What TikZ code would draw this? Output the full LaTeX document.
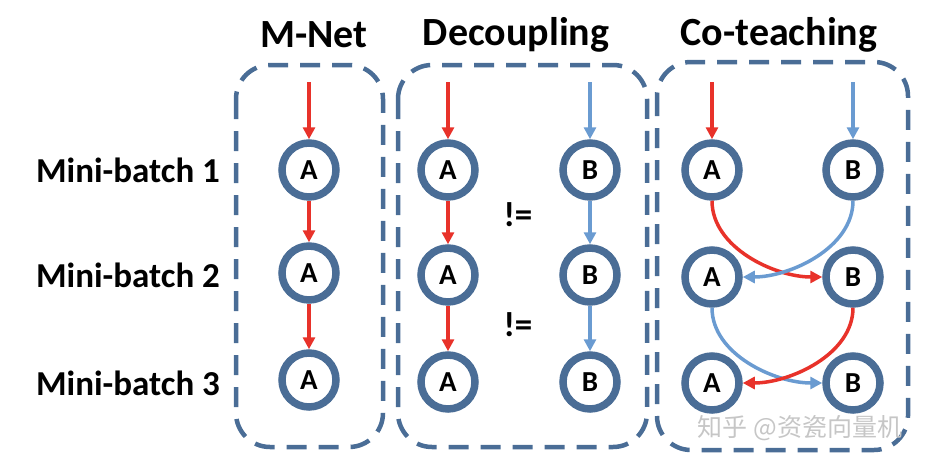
\documentclass[tikz,border=0pt]{standalone}
\usepackage{fontspec}
\setmainfont{Carlito}
\newfontfamily\cjk{Noto Sans CJK SC}
\usetikzlibrary{arrows.meta}
\definecolor{ring}{HTML}{4A6D96}
\definecolor{rd}{HTML}{E8322A}
\definecolor{bl}{HTML}{6A9BD1}
\tikzset{
  nd/.style={circle,draw=ring,line width=7.5pt,fill=white,minimum size=54pt,inner sep=0pt,font=\bfseries\fontsize{29}{29}\selectfont},
  box/.style={draw=ring,line width=4.5pt,dash pattern=on 20pt off 12pt,rounded corners=34pt},
  ra/.style={draw=rd,line width=3.5pt,-{Triangle[length=12pt,width=12pt]}},
  ba/.style={draw=bl,line width=3.5pt,-{Triangle[length=12pt,width=12pt]}},
  ttl/.style={font=\bfseries\fontsize{40}{40}\selectfont},
  lbl/.style={font=\bfseries\fontsize{35}{35}\selectfont},
}
\begin{document}
\begin{tikzpicture}[x=1pt,y=-1pt]
\useasboundingbox (0,0) rectangle (938,464);
\draw[box] (236,65) rectangle (383,447);
\draw[box] (398,65) rectangle (647,447);
\draw[box] (657,62) rectangle (908,450);
\node[ttl] (t1) at (314,35) {M-Net};
\node[ttl] (t2) at (516,35) {Decoupling};
\node[ttl] (t3) at (779,35) {Co-teaching};
\node[lbl] (l1) at (128,170) {Mini-batch 1};
\node[lbl] (l2) at (128,275) {Mini-batch 2};
\node[lbl] (l3) at (128,383) {Mini-batch 3};
\node[lbl] (ne1) at (518,215) {!=};
\node[lbl] (ne2) at (518,325) {!=};
% M-Net
\node[nd] (m1) at (309,170) {A};
\node[nd] (m2) at (309,273) {A};
\node[nd] (m3) at (309,380) {A};
\coordinate (m0) at (309,82);
\draw[ra] (m0) -- (m1);
\draw[ra] (m1) -- (m2);
\draw[ra] (m2) -- (m3);
% Decoupling
\node[nd] (da1) at (448,170) {A};
\node[nd] (da2) at (448,275) {A};
\node[nd] (da3) at (448,382) {A};
\node[nd] (db1) at (590,170) {B};
\node[nd] (db2) at (590,275) {B};
\node[nd] (db3) at (590,382) {B};
\coordinate (da0) at (448,82);
\coordinate (db0) at (590,82);
\draw[ra] (da0) -- (da1);
\draw[ra] (da1) -- (da2);
\draw[ra] (da2) -- (da3);
\draw[ba] (db0) -- (db1);
\draw[ba] (db1) -- (db2);
\draw[ba] (db2) -- (db3);
% Co-teaching
\node[nd] (ca1) at (712,170) {A};
\node[nd] (ca2) at (712,277) {A};
\node[nd] (ca3) at (712,383) {A};
\node[nd] (cb1) at (853,170) {B};
\node[nd] (cb2) at (853,277) {B};
\node[nd] (cb3) at (853,383) {B};
\coordinate (ca0) at (712,82);
\coordinate (cb0) at (853,82);
\draw[ra] (ca0) -- (ca1);
\draw[ba] (cb0) -- (cb1);
\draw[ra] (ca1.south) to[out=-90,in=180,looseness=0.9] (cb2.west);
\draw[ba] (cb1.south) to[out=-90,in=0,looseness=0.9] (ca2.east);
\draw[ba] (ca2.south) to[out=-90,in=180,looseness=0.9] (cb3.west);
\draw[ra] (cb2.south) to[out=-90,in=0,looseness=0.9] (ca3.east);
\node[font=\cjk\fontsize{25}{25}\selectfont,text=gray!45] (wm) at (800,428) {知乎 @资瓷向量机};
\end{tikzpicture}
\end{document}
